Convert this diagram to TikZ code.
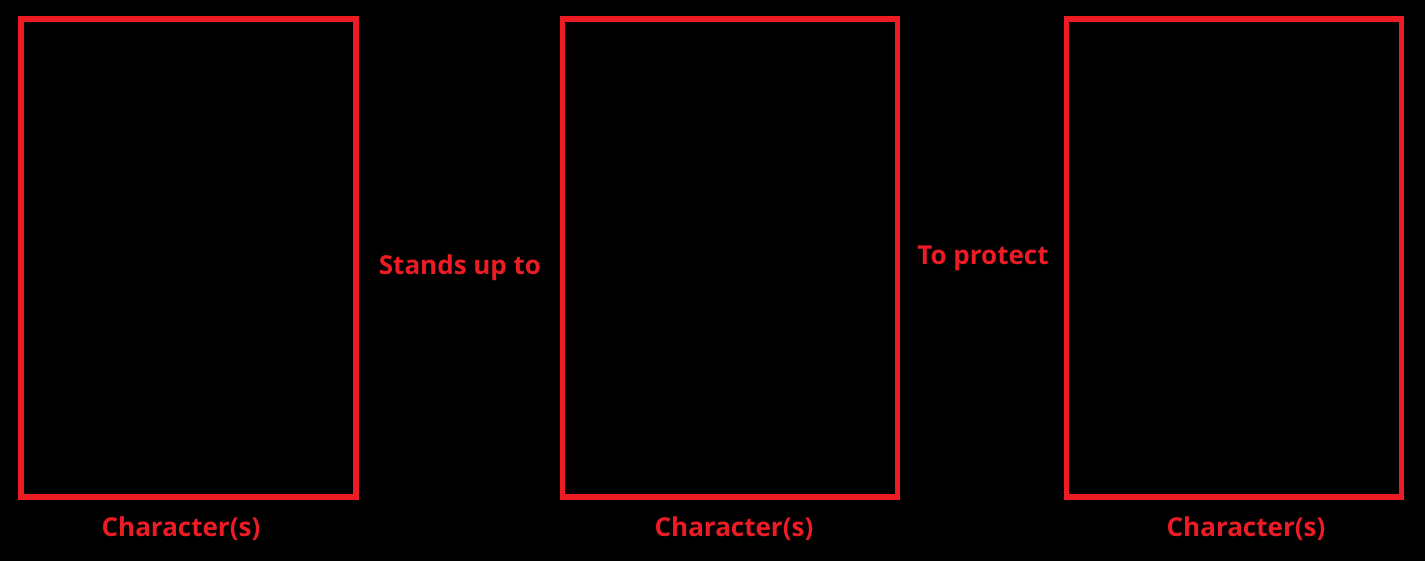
\documentclass[tikz,border=0pt]{standalone}
\usepackage{fontspec}
\setmainfont{Open Sans}
\definecolor{boxred}{HTML}{ED1C24}
\begin{document}
\begin{tikzpicture}[x=1pt,y=-1pt]
			\tikzstyle{charbox}=[draw=boxred, line width=5.5pt, minimum width=335pt, minimum height=478pt, inner sep=0pt]
			\tikzstyle{lbl}=[text=boxred, font=\fontsize{26}{30}\selectfont\bfseries, inner sep=0pt]
			\fill [black] (0,0) rectangle (1425,561);
			\node [charbox] (left) at (188.5,258) {};
			\node [charbox] (middle) at (730,258) {};
			\node [charbox] (right) at (1234,258) {};
			\node [lbl] (leftname) at (181,529) {Character(s)};
			\node [lbl] (middlename) at (734,529) {Character(s)};
			\node [lbl] (rightname) at (1246,529) {Character(s)};
			\node [lbl] (standsup) at (460,268) {Stands up to};
			\node [lbl] (protect) at (983,258) {To protect};
		\end{tikzpicture}
\end{document}
